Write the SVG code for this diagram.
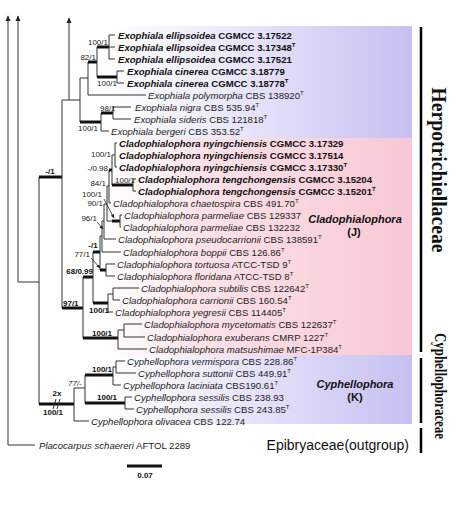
<svg xmlns="http://www.w3.org/2000/svg" width="474" height="507" viewBox="0 0 474 507">
<style>
.t{stroke:#333;stroke-width:1;fill:none}
.b{stroke:#111;stroke-width:3;fill:none}
.a{stroke:#222;stroke-width:0.8;fill:none}
.lf{font-family:"Liberation Sans",Arial,sans-serif;font-size:9.6px;fill:#222}
.bd{font-weight:bold;fill:#111}
.it{font-style:italic}
.sup{font-size:6px}
.s{font-family:"Liberation Sans",Arial,sans-serif;font-size:8px;fill:#222}
.sb{font-family:"Liberation Sans",Arial,sans-serif;font-size:8px;font-weight:bold;fill:#111}
.cl{font-family:"Liberation Sans",Arial,sans-serif;font-size:11px;font-weight:bold;fill:#111;text-anchor:middle}
.fam{font-family:"Liberation Serif","Times New Roman",serif;font-weight:bold;fill:#111;text-anchor:middle}
.bar{stroke:#000;stroke-width:2.5}
</style>
<defs>
<linearGradient id="gb" x1="0" y1="0" x2="1" y2="0">
<stop offset="0" stop-color="#ffffff"/><stop offset="0.4" stop-color="#ebe8fb"/><stop offset="1" stop-color="#c6bff2"/>
</linearGradient>
<linearGradient id="gp" x1="0" y1="0" x2="1" y2="0">
<stop offset="0" stop-color="#ffffff"/><stop offset="0.3" stop-color="#fde3e9"/><stop offset="1" stop-color="#f8c8d4"/>
</linearGradient>
<marker id="ah" viewBox="0 0 10 10" refX="9" refY="5" markerWidth="6" markerHeight="6" orient="auto" markerUnits="userSpaceOnUse">
<path d="M0,0.5 L10,5 L0,9.5 z" fill="#222"/>
</marker>
<marker id="sa" viewBox="0 0 10 10" refX="9" refY="5" markerWidth="4" markerHeight="4" orient="auto" markerUnits="userSpaceOnUse">
<path d="M0,0.5 L10,5 L0,9.5 z" fill="#222"/>
</marker>
</defs>
<rect width="474" height="507" fill="#ffffff"/>

<g id="backgrounds">
<rect x="108" y="26" width="304" height="112" fill="url(#gb)"/>
<rect x="108" y="138" width="304" height="217" fill="url(#gp)"/>
<rect x="108" y="355" width="304" height="69" fill="url(#gb)"/>
</g>

<g id="connectors">
<!-- root lines with arrows -->
<line class="t" x1="8" y1="445" x2="8" y2="16" marker-end="url(#ah)"/>
<line class="t" x1="8" y1="445" x2="35" y2="445"/>
<line class="t" x1="18" y1="282" x2="18" y2="16" marker-end="url(#ah)"/>
<line class="t" x1="18" y1="282" x2="39" y2="282"/>
<line class="t" x1="39" y1="177" x2="39" y2="404"/>
<line class="b" x1="39" y1="177" x2="62" y2="177"/>
<line class="t" x1="62" y1="100" x2="62" y2="308"/>
<line class="t" x1="62" y1="100" x2="80" y2="100"/>
<line class="t" x1="69" y1="100" x2="69" y2="18" marker-end="url(#ah)"/>
<!-- Exophiala -->
<line class="t" x1="80" y1="78" x2="80" y2="122"/>
<line class="t" x1="80" y1="78" x2="88" y2="78"/>
<line class="t" x1="88" y1="62" x2="88" y2="95"/>
<line class="b" x1="88" y1="62" x2="97" y2="62"/>
<line class="t" x1="88" y1="95" x2="146" y2="95"/>
<line class="t" x1="97" y1="47" x2="97" y2="77"/>
<line class="b" x1="97" y1="47" x2="109" y2="47"/>
<line class="b" x1="97" y1="77" x2="117" y2="77"/>
<line class="t" x1="109" y1="35" x2="109" y2="59"/>
<line class="t" x1="109" y1="35" x2="115" y2="35"/>
<line class="t" x1="109" y1="47" x2="115" y2="47"/>
<line class="t" x1="109" y1="59" x2="115" y2="59"/>
<line class="t" x1="117" y1="71" x2="117" y2="83"/>
<line class="t" x1="117" y1="71" x2="124" y2="71"/>
<line class="t" x1="117" y1="83" x2="124" y2="83"/>
<line class="b" x1="80" y1="122" x2="101" y2="122"/>
<line class="t" x1="101" y1="113" x2="101" y2="131"/>
<line class="b" x1="101" y1="113" x2="113" y2="113"/>
<line class="t" x1="101" y1="131" x2="109" y2="131"/>
<line class="t" x1="113" y1="107" x2="113" y2="119"/>
<line class="t" x1="113" y1="107" x2="131" y2="107"/>
<line class="t" x1="113" y1="119" x2="131" y2="119"/>
<!-- Cladophialophora -->
<line class="b" x1="62" y1="308" x2="83" y2="308"/>
<line class="t" x1="83" y1="277" x2="83" y2="338"/>
<line class="b" x1="83" y1="277" x2="93" y2="277"/>
<line class="t" x1="93" y1="252" x2="93" y2="303"/>
<line class="b" x1="93" y1="252" x2="100" y2="252"/>
<line class="t" x1="100" y1="236" x2="100" y2="270"/>
<line class="t" x1="100" y1="236" x2="102" y2="236"/>
<line class="b" x1="100" y1="270" x2="106" y2="270"/>
<line class="t" x1="106" y1="264" x2="106" y2="276"/>
<line class="t" x1="106" y1="264" x2="115" y2="264"/>
<line class="t" x1="106" y1="276" x2="115" y2="276"/>
<line class="t" x1="102" y1="221" x2="102" y2="252"/>
<line class="t" x1="102" y1="252" x2="121" y2="252"/>
<line class="t" x1="102" y1="221" x2="104" y2="221"/>
<line class="t" x1="104" y1="204" x2="104" y2="239"/>
<line class="t" x1="104" y1="239" x2="116" y2="239"/>
<line class="t" x1="104" y1="204" x2="107" y2="204"/>
<line class="t" x1="107" y1="186" x2="107" y2="221"/>
<line class="t" x1="107" y1="221" x2="112" y2="221"/>
<line class="b" x1="112" y1="221" x2="120" y2="221"/>
<line class="t" x1="120" y1="215" x2="120" y2="227"/>
<line class="t" x1="120" y1="215" x2="122" y2="215"/>
<line class="t" x1="120" y1="227" x2="121" y2="227"/>
<line class="t" x1="107" y1="186" x2="109" y2="186"/>
<line class="t" x1="109" y1="170" x2="109" y2="203"/>
<line class="t" x1="109" y1="203" x2="111" y2="203"/>
<line class="b" x1="109" y1="170" x2="112" y2="170"/>
<line class="t" x1="112" y1="155" x2="112" y2="185"/>
<line class="t" x1="112" y1="155" x2="115" y2="155"/>
<line class="b" x1="112" y1="185" x2="133" y2="185"/>
<line class="t" x1="115" y1="143" x2="115" y2="167"/>
<line class="t" x1="115" y1="143" x2="117" y2="143"/>
<line class="t" x1="115" y1="167" x2="117" y2="167"/>
<line class="t" x1="133" y1="179" x2="133" y2="191"/>
<line class="t" x1="133" y1="179" x2="136" y2="179"/>
<line class="t" x1="133" y1="191" x2="136" y2="191"/>
<line class="b" x1="93" y1="303" x2="108" y2="303"/>
<line class="t" x1="108" y1="294" x2="108" y2="312"/>
<line class="t" x1="108" y1="294" x2="113" y2="294"/>
<line class="t" x1="108" y1="312" x2="113" y2="312"/>
<line class="t" x1="113" y1="288" x2="113" y2="300"/>
<line class="t" x1="113" y1="288" x2="139" y2="288"/>
<line class="t" x1="113" y1="300" x2="120" y2="300"/>
<line class="b" x1="83" y1="338" x2="118" y2="338"/>
<line class="t" x1="118" y1="330" x2="118" y2="349"/>
<line class="t" x1="118" y1="330" x2="124" y2="330"/>
<line class="t" x1="118" y1="349" x2="147" y2="349"/>
<line class="t" x1="124" y1="324" x2="124" y2="337"/>
<line class="t" x1="124" y1="324" x2="142" y2="324"/>
<line class="t" x1="124" y1="337" x2="145" y2="337"/>
<!-- support arrows -->
<line class="a" x1="104" y1="199" x2="114" y2="218" marker-end="url(#sa)"/>
<line class="a" x1="97" y1="222" x2="103" y2="229" marker-end="url(#sa)"/>
<line class="a" x1="91" y1="258" x2="100" y2="268" marker-end="url(#sa)"/>
<!-- Cyphellophora -->
<line class="b" x1="39" y1="404" x2="74" y2="404"/>
<line class="t" x1="53" y1="409" x2="56" y2="399"/>
<line class="t" x1="57" y1="409" x2="60" y2="399"/>
<line class="t" x1="74" y1="388" x2="74" y2="421"/>
<line class="t" x1="74" y1="388" x2="85" y2="388"/>
<line class="t" x1="74" y1="421" x2="89" y2="421"/>
<line class="t" x1="85" y1="375" x2="85" y2="403"/>
<line class="b" x1="85" y1="375" x2="113" y2="375"/>
<line class="b" x1="85" y1="403" x2="125" y2="403"/>
<line class="t" x1="113" y1="367" x2="113" y2="385"/>
<line class="t" x1="113" y1="367" x2="116" y2="367"/>
<line class="t" x1="113" y1="385" x2="121" y2="385"/>
<line class="t" x1="116" y1="361" x2="116" y2="373"/>
<line class="t" x1="116" y1="361" x2="125" y2="361"/>
<line class="t" x1="116" y1="373" x2="136" y2="373"/>
<line class="t" x1="125" y1="397" x2="125" y2="409"/>
<line class="t" x1="125" y1="397" x2="132" y2="397"/>
<line class="t" x1="125" y1="409" x2="134" y2="409"/>
<!-- family bars -->
<line class="bar" x1="421" y1="27" x2="421" y2="352"/>
<line class="bar" x1="421" y1="358" x2="421" y2="423"/>
<line class="bar" x1="421" y1="428" x2="421" y2="453"/>
<!-- scale -->
<line x1="127" y1="466" x2="162" y2="466" stroke="#111" stroke-width="3"/>
</g>

<g id="support-values">
<text class="s" x="108" y="45" text-anchor="end">100/1</text>
<text class="s" x="96" y="60" text-anchor="end">82/1</text>
<text class="s" x="97" y="86">100/1</text>
<text class="s" x="100" y="111">98/1</text>
<text class="s" x="78" y="131">100/1</text>
<text class="sb" x="50" y="174" text-anchor="middle">-/1</text>
<text class="s" x="111" y="157" text-anchor="end">100/1</text>
<text class="s" x="108" y="171" text-anchor="end">-/0.98</text>
<text class="s" x="106" y="186" text-anchor="end">84/1</text>
<text class="s" x="115" y="183">100/1</text>
<text class="s" x="102" y="197" text-anchor="end">100/1</text>
<text class="s" x="103" y="206" text-anchor="end">90/1</text>
<text class="s" x="97" y="221" text-anchor="end">96/1</text>
<text class="sb" x="93" y="248" text-anchor="middle">-/1</text>
<text class="s" x="90" y="257" text-anchor="end">77/1</text>
<text class="sb" x="93" y="274" text-anchor="end">68/0.99</text>
<text class="sb" x="63" y="306">97/1</text>
<text class="sb" x="89" y="313">100/1</text>
<text class="sb" x="92" y="336">100/1</text>
<text class="sb" x="92" y="372">100/1</text>
<text class="s" x="68" y="386" font-style="italic">77/-</text>
<text class="sb" x="97" y="400">100/1</text>
<text class="sb" x="57" y="396" text-anchor="middle">2x</text>
<text class="sb" x="53" y="415" text-anchor="middle">100/1</text>
<text class="sb" x="145" y="478" text-anchor="middle" font-size="9px">0.07</text>
</g>

<g id="leaves">
<g id="n01"><text class="lf bd" x="118" y="38.5"><tspan class="it">Exophiala ellipsoidea</tspan> CGMCC 3.17522</text></g>
<g id="n02"><text class="lf bd" x="118" y="50.5"><tspan class="it">Exophiala ellipsoidea</tspan> CGMCC 3.17348<tspan class="sup" dy="-4">T</tspan></text></g>
<g id="n03"><text class="lf bd" x="118" y="62.5"><tspan class="it">Exophiala ellipsoidea</tspan> CGMCC 3.17521</text></g>
<g id="n04"><text class="lf bd" x="127" y="74.5"><tspan class="it">Exophiala cinerea</tspan> CGMCC 3.18779</text></g>
<g id="n05"><text class="lf bd" x="127" y="86.5"><tspan class="it">Exophiala cinerea</tspan> CGMCC 3.18778<tspan class="sup" dy="-4">T</tspan></text></g>
<g id="n06"><text class="lf" x="148" y="98.5"><tspan class="it">Exophiala polymorpha</tspan> CBS 138920<tspan class="sup" dy="-4">T</tspan></text></g>
<g id="n07"><text class="lf" x="135" y="110.5"><tspan class="it">Exophiala nigra</tspan> CBS 535.94<tspan class="sup" dy="-4">T</tspan></text></g>
<g id="n08"><text class="lf" x="134" y="122.5"><tspan class="it">Exophiala sideris</tspan> CBS 121818<tspan class="sup" dy="-4">T</tspan></text></g>
<g id="n09"><text class="lf" x="111" y="134.5"><tspan class="it">Exophiala bergeri</tspan> CBS 353.52<tspan class="sup" dy="-4">T</tspan></text></g>
<g id="n10"><text class="lf bd" x="119" y="146.5"><tspan class="it">Cladophialophora nyingchiensis</tspan> CGMCC 3.17329</text></g>
<g id="n11"><text class="lf bd" x="119" y="158.5"><tspan class="it">Cladophialophora nyingchiensis</tspan> CGMCC 3.17514</text></g>
<g id="n12"><text class="lf bd" x="119" y="170.5"><tspan class="it">Cladophialophora nyingchiensis</tspan> CGMCC 3.17330<tspan class="sup" dy="-4">T</tspan></text></g>
<g id="n13"><text class="lf bd" x="138" y="182.5"><tspan class="it">Cladophialophora tengchongensis</tspan> CGMCC 3.15204</text></g>
<g id="n14"><text class="lf bd" x="138" y="194.5"><tspan class="it">Cladophialophora tengchongensis</tspan> CGMCC 3.15201<tspan class="sup" dy="-4">T</tspan></text></g>
<g id="n15"><text class="lf" x="113" y="206.5"><tspan class="it">Cladophialophora chaetospira</tspan> CBS 491.70<tspan class="sup" dy="-4">T</tspan></text></g>
<g id="n16"><text class="lf" x="124" y="218.5"><tspan class="it">Cladophialophora parmeliae</tspan> CBS 129337</text></g>
<g id="n17"><text class="lf" x="123" y="230.5"><tspan class="it">Cladophialophora parmeliae</tspan> CBS 132232</text></g>
<g id="n18"><text class="lf" x="118" y="242.5"><tspan class="it">Cladophialophora pseudocarrionii</tspan> CBS 138591<tspan class="sup" dy="-4">T</tspan></text></g>
<g id="n19"><text class="lf" x="123" y="255.5"><tspan class="it">Cladophialophora boppii</tspan> CBS 126.86<tspan class="sup" dy="-4">T</tspan></text></g>
<g id="n20"><text class="lf" x="117" y="267.5"><tspan class="it">Cladophialophora tortuosa</tspan> ATCC-TSD 9<tspan class="sup" dy="-4">T</tspan></text></g>
<g id="n21"><text class="lf" x="117" y="279.5"><tspan class="it">Cladophialophora floridana</tspan> ATCC-TSD 8<tspan class="sup" dy="-4">T</tspan></text></g>
<g id="n22"><text class="lf" x="141" y="291.5"><tspan class="it">Cladophialophora subtilis</tspan> CBS 122642<tspan class="sup" dy="-4">T</tspan></text></g>
<g id="n23"><text class="lf" x="122" y="303.5"><tspan class="it">Cladophialophora carrionii</tspan> CBS 160.54<tspan class="sup" dy="-4">T</tspan></text></g>
<g id="n24"><text class="lf" x="115" y="315.5"><tspan class="it">Cladophialophora yegresii</tspan> CBS 114405<tspan class="sup" dy="-4">T</tspan></text></g>
<g id="n25"><text class="lf" x="144" y="327.5"><tspan class="it">Cladophialophora mycetomatis</tspan> CBS 122637<tspan class="sup" dy="-4">T</tspan></text></g>
<g id="n26"><text class="lf" x="147" y="340.5"><tspan class="it">Cladophialophora exuberans</tspan> CMRP 1227<tspan class="sup" dy="-4">T</tspan></text></g>
<g id="n27"><text class="lf" x="149" y="352.5"><tspan class="it">Cladophialophora matsushimae</tspan> MFC-1P384<tspan class="sup" dy="-4">T</tspan></text></g>
<g id="n28"><text class="lf" x="127" y="364.5"><tspan class="it">Cyphellophora vermispora</tspan> CBS 228.86<tspan class="sup" dy="-4">T</tspan></text></g>
<g id="n29"><text class="lf" x="138" y="376.5"><tspan class="it">Cyphellophora suttonii</tspan> CBS 449.91<tspan class="sup" dy="-4">T</tspan></text></g>
<g id="n30"><text class="lf" x="123" y="388.5"><tspan class="it">Cyphellophora laciniata</tspan> CBS190.61<tspan class="sup" dy="-4">T</tspan></text></g>
<g id="n31"><text class="lf" x="134" y="400.5"><tspan class="it">Cyphellophora sessilis</tspan> CBS 238.93</text></g>
<g id="n32"><text class="lf" x="136" y="412.5"><tspan class="it">Cyphellophora sessilis</tspan> CBS 243.85<tspan class="sup" dy="-4">T</tspan></text></g>
<g id="n33"><text class="lf" x="91" y="424.5"><tspan class="it">Cyphellophora olivacea</tspan> CBS 122.74</text></g>
<g id="n34"><text class="lf" x="39" y="448.5"><tspan class="it">Placocarpus schaereri</tspan> AFTOL 2289</text></g>
</g>

<g id="clade-labels">
<g id="cladeJ"><text class="cl" x="355" y="223"><tspan font-style="italic">Cladophialophora</tspan></text><text class="cl" x="354" y="236">(J)</text></g>
<g id="cladeK"><text class="cl" x="355" y="388"><tspan font-style="italic">Cyphellophora</tspan></text><text class="cl" x="355" y="401">(K)</text></g>
</g>

<g id="families">
<g id="fam-herp"><text class="fam" font-size="20" textLength="165" lengthAdjust="spacingAndGlyphs" transform="translate(432,170) rotate(90)">Herpotrichiellaceae</text></g>
<g id="fam-cyph"><text class="fam" font-size="16" textLength="106" lengthAdjust="spacingAndGlyphs" transform="translate(435,386) rotate(90)">Cyphellophoraceae</text></g>
<g id="fam-epi"><text x="409" y="450" text-anchor="end" font-family="'Liberation Sans',Arial,sans-serif" font-size="14" fill="#111">Epibryaceae(outgroup)</text></g>
</g>
</svg>
